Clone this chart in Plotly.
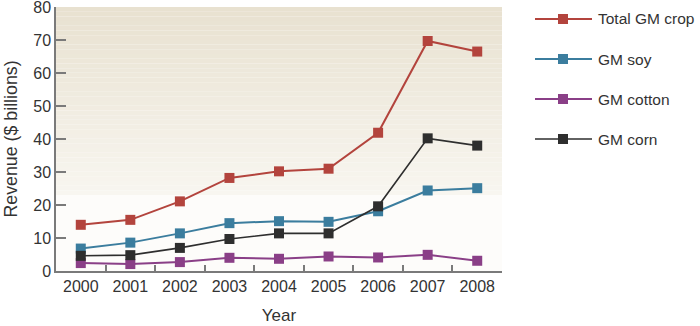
import plotly.graph_objects as go

years = ["2000", "2001", "2002", "2003", "2004", "2005", "2006", "2007", "2008"]
total_gm = [14.0, 15.5, 21.1, 28.2, 30.2, 31.0, 41.9, 69.7, 66.5]
gm_soy = [6.8, 8.6, 11.4, 14.5, 15.1, 14.9, 18.1, 24.4, 25.1]
gm_cotton = [2.4, 2.1, 2.7, 4.0, 3.7, 4.4, 4.1, 4.9, 3.1]
gm_corn = [4.6, 4.8, 7.0, 9.7, 11.4, 11.4, 19.6, 40.2, 38.0]

series = [
    ("Total GM crop", total_gm, "#b3443d", 2),
    ("GM soy", gm_soy, "#3b7d9e", 2),
    ("GM cotton", gm_cotton, "#8a3f87", 2),
    ("GM corn", gm_corn, "#2e2e2e", 1.6),
]

FONT = "Liberation Sans, Arial, sans-serif"
L, R, T, B = 56, 198, 7, 55
W, H = 700, 326
PW, PH = W - L - R, H - T - B

fig = go.Figure()
for i, (name, vals, color, lw) in enumerate(series):
    fig.add_trace(go.Scatter(
        x=list(range(len(years))), y=vals, name=name, mode="lines+markers",
        line=dict(color=color, width=lw),
        marker=dict(symbol="square", size=10, color=color),
        showlegend=False,
    ))

# background gradient
shapes = []
top = (232, 225, 208)
mid = (248, 246, 240)
n = 40
y0, y1 = 23.0, 80.0
for k in range(n):
    a = y0 + (y1 - y0) * k / n
    b = y0 + (y1 - y0) * (k + 1) / n
    t = (k + 0.5) / n
    c = tuple(round(mid[j] + (top[j] - mid[j]) * t) for j in range(3))
    shapes.append(dict(type="rect", xref="x domain", yref="y", x0=0, x1=1, y0=a, y1=b,
                       fillcolor="rgb(%d,%d,%d)" % c, line=dict(width=0), layer="below"))
shapes.append(dict(type="rect", xref="x domain", yref="y", x0=0, x1=1, y0=0, y1=y0,
                   fillcolor="#fdfcfa", line=dict(width=0), layer="below"))

# custom legend
def px_x(p):
    return (p - L) / PW

def px_y(p):
    return (H - B - p) / PH

annotations = []
for i, (name, vals, color, lw) in enumerate(series):
    cy = 19 + 40 * i
    shapes.append(dict(type="line", xref="paper", yref="paper",
                       x0=px_x(535), x1=px_x(592), y0=px_y(cy), y1=px_y(cy),
                       line=dict(color=color, width=lw)))
    shapes.append(dict(type="rect", xref="paper", yref="paper",
                       x0=px_x(558), x1=px_x(568), y0=px_y(cy - 5), y1=px_y(cy + 5),
                       fillcolor=color, line=dict(width=0)))
    annotations.append(dict(text=name, xref="paper", yref="paper", x=px_x(596), y=px_y(cy),
                            xanchor="left", yanchor="middle", showarrow=False,
                            font=dict(size=15.5, color="#333333")))

fig.update_layout(
    width=W, height=H,
    margin=dict(l=L, r=R, t=T, b=B),
    paper_bgcolor="white", plot_bgcolor="white",
    font=dict(family=FONT, size=15, color="#333333"),
    shapes=shapes, annotations=annotations,
    showlegend=False,
    xaxis=dict(
        tickmode="array", tickvals=list(range(len(years))), ticktext=years,
        range=[-0.5, 8.5], showgrid=False, zeroline=False, automargin=False,
        showline=True, linecolor="#7a7a7a", linewidth=1.5,
        ticks="", title=dict(text="Year", font=dict(size=17), standoff=15),
        tickfont=dict(size=16), ticklabeloverflow="allow",
    ),
    xaxis2=dict(
        overlaying="x", matches="x", tickmode="array",
        tickvals=[i + 0.5 for i in range(-1, len(years))],
        showticklabels=False, ticks="inside", ticklen=6, tickcolor="#7a7a7a",
        tickwidth=1.5, showgrid=False, zeroline=False, side="bottom", automargin=False,
    ),
    yaxis=dict(
        range=[0, 80], dtick=10, showgrid=False, zeroline=False, automargin=False,
        showline=True, linecolor="#7a7a7a", linewidth=1.5,
        ticks="inside", ticklen=10, tickcolor="#7a7a7a", tickwidth=1.5,
        title=dict(text="Revenue ($ billions)", font=dict(size=17.8), standoff=11),
        tickfont=dict(size=16), ticklabeloverflow="allow",
    ),
)
fig.add_trace(go.Scatter(x=[0], y=[None], xaxis="x2", showlegend=False, hoverinfo="skip"))
fig.write_html("out.html", config={"displayModeBar": False},
               post_script="document.body.style.margin='0';document.body.style.overflow='hidden';")
